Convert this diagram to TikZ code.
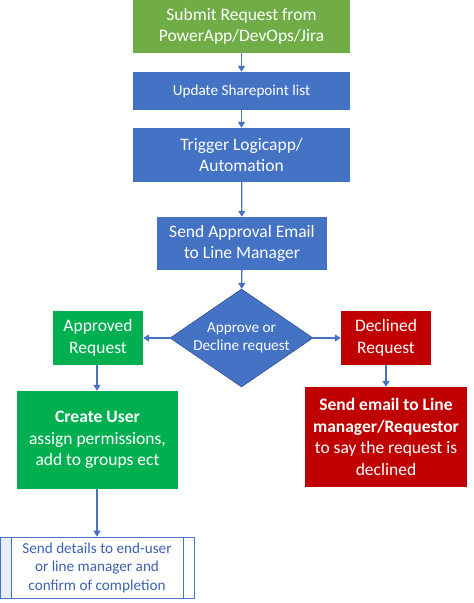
\documentclass[tikz,border=0pt]{standalone}
\usepackage{fontspec}
\setmainfont{Carlito}
\usetikzlibrary{arrows.meta,shapes.geometric}
\definecolor{offgreen}{HTML}{70AD47}
\definecolor{offblue}{HTML}{4472C4}
\definecolor{offbluedk}{HTML}{2F528F}
\definecolor{brgreen}{HTML}{00B050}
\definecolor{dkred}{HTML}{C00000}
\definecolor{bottxt}{HTML}{3D62B0}
\definecolor{sliver}{HTML}{E9EEF8}
\tikzset{
  x=1pt,y=-1pt,
  box/.style={rectangle,inner sep=0pt,align=center,text=white,
    font=\fontsize{17.5}{21.5}\selectfont},
  smallbox/.style={box,font=\fontsize{15.2}{18.5}\selectfont},
  conn/.style={draw=offblue,line width=1.3pt,-{Triangle[width=7pt,length=6pt]}},
}
\begin{document}
\begin{tikzpicture}
\useasboundingbox (0,0) rectangle (474,603);
\fill[white] (0,0) rectangle (474,603);
% top chain
\node[box,fill=offgreen,minimum width=217pt,minimum height=53pt] (submit) at (241.5,26.5)
  {Submit Request from\\PowerApp/DevOps/Jira};
\node[smallbox,fill=offblue,minimum width=217pt,minimum height=38pt] (update) at (241.5,91)
  {Update Sharepoint list};
\node[box,fill=offblue,minimum width=217pt,minimum height=54pt] (trigger) at (241.5,155)
  {Trigger Logicapp/\\Automation};
\node[box,fill=offblue,minimum width=170pt,minimum height=53pt] (approval) at (242,243.5)
  {Send Approval Email\\to Line Manager};
% decision
\node[diamond,fill=offblue,draw=offbluedk,line width=0.6pt,inner sep=0pt,
  minimum width=143pt,minimum height=98pt] (decide) at (241.5,338) {};
\node[smallbox] (decidetext) at (241.5,338) {Approve or\\Decline request};
% branches
\node[box,fill=brgreen,minimum width=90pt,minimum height=54pt] (approved) at (98,338)
  {Approved\\Request};
\node[box,fill=dkred,minimum width=90pt,minimum height=54pt] (declined) at (386,338)
  {Declined\\Request};
\node[box,fill=brgreen,minimum width=161pt,minimum height=98pt] (create) at (97.5,440)
  {\textbf{Create User}\\assign permissions,\\add to groups ect};
\node[box,fill=dkred,minimum width=162pt,minimum height=100pt] (sendemail) at (386,437)
  {\textbf{Send email to Line}\\\textbf{manager/Requestor}\\to say the request is\\declined};
% bottom predefined process
\fill[sliver] (0,537) rectangle (11,598);
\node[smallbox,text=bottxt,draw=offblue,line width=0.8pt,minimum width=194pt,
  minimum height=61pt] (details) at (97,567.5)
  {Send details to end-user\\or line manager and\\confirm of completion};
\draw[offblue,line width=0.8pt] (11,537) -- (11,598) (183,537) -- (183,598);
% connectors
\draw[conn] (submit) -- (update);
\draw[conn] (update) -- (trigger);
\draw[conn] (trigger) -- (approval);
\draw[conn] (approval) -- (decide);
\draw[conn] (decide.west) -- (approved.east);
\draw[conn] (decide.east) -- (declined.east -| declined.west);
\draw[conn] (approved.south -| 97,0) -- (create.north -| 97,0);
\draw[conn] (create.south -| 97,0) -- (details.north -| 97,0);
\draw[conn] (declined) -- (sendemail);
\end{tikzpicture}
\end{document}
